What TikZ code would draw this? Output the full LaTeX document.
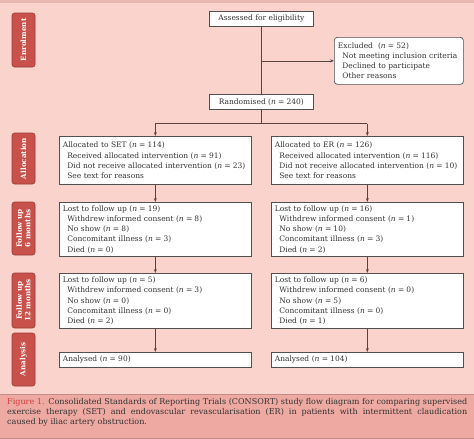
\documentclass[tikz,border=0pt]{standalone}
\usepackage{fontspec}
\setmainfont{DejaVu Serif}
\usetikzlibrary{arrows.meta,positioning}
\definecolor{bgpink}{HTML}{FAD4CC}
\definecolor{topstrip}{HTML}{E6B8B0}
\definecolor{capband}{HTML}{EEAAA2}
\definecolor{capborder}{HTML}{C48C86}
\definecolor{labfill}{HTML}{C9514C}
\definecolor{labdraw}{HTML}{9A3A36}
\definecolor{boxdraw}{HTML}{505050}
\definecolor{linecol}{HTML}{5A4242}
\definecolor{txt}{HTML}{333333}
\definecolor{figred}{HTML}{D23C3C}
\newcommand{\nv}[1]{(\textit{n}\hspace{2.2pt}=\hspace{2.2pt}#1)}
\newcommand{\ind}{\hspace*{4.5pt}}
\begin{document}
\begin{tikzpicture}[x=1pt,y=-1pt,
  box/.style={draw=boxdraw,fill=white,line width=0.7pt,anchor=north west,inner sep=0pt,
    text=txt,font=\fontsize{7.5}{10.2}\selectfont,align=left},
  sidelab/.style={draw=labdraw,fill=labfill,line width=0.6pt,rounded corners=2.5pt,rotate=90,
    text=white,font=\fontsize{7.2}{8.4}\selectfont\bfseries,align=center,inner sep=0pt,
    minimum height=23pt},
  conn/.style={draw=linecol,line width=0.7pt},
  arr/.style={conn,-{Stealth[length=4pt,width=3pt]}}]
\useasboundingbox (0,0) rectangle (474,439);
\fill[bgpink] (0,0) rectangle (474,439);
\fill[topstrip] (0,0) rectangle (474,2.5);
% caption band
\fill[capband] (0,394) rectangle (474,439);
\draw[capborder,line width=0.8pt] (0,394) -- (474,394);
\draw[capborder,line width=1.2pt] (0,438.4) -- (474,438.4);
\node[anchor=north west,inner sep=0pt,text width=460pt,align=justify,
  font=\fontsize{8.05}{10}\selectfont,text=txt] (cap) at (7,398.5)
  {\hyphenpenalty=10000\relax\textcolor{figred}{Figure 1.} Consolidated Standards of Reporting Trials (CONSORT) study flow diagram for comparing supervised\linebreak exercise therapy (SET) and endovascular revascularisation (ER) in patients with intermittent claudication\linebreak caused by iliac artery obstruction.};
% side labels
\node[sidelab,minimum width=54pt] (lenr) at (23.5,40) {Enrolment};
\node[sidelab,minimum width=51pt] (lall) at (23.5,158.5) {Allocation};
\node[sidelab,minimum width=53pt] (lf6) at (23.5,228.5) {Follow up\\6 months};
\node[sidelab,minimum width=55pt] (lf12) at (23.5,300.5) {Follow up\\12 months};
\node[sidelab,minimum width=53pt] (lana) at (23.5,359.5) {Analysis};
% boxes
\node[box,minimum width=104pt,minimum height=15pt,align=center] (assess) at (209,11) {Assessed for eligibility};
\node[box,minimum width=104pt,minimum height=15pt,align=center] (rand) at (209,94) {Randomised \nv{240}};
\node[box,rounded corners=3pt,minimum width=129pt,minimum height=47pt,text width=122pt] (excl) at (334,37)
  {Excluded~~\nv{52}\\\ind Not meeting inclusion criteria\\\ind Declined to participate\\\ind Other reasons};
\node[box,minimum width=192pt,minimum height=48pt,text width=185pt] (aset) at (59,136)
  {Allocated to SET \nv{114}\\\ind Received allocated intervention \nv{91}\\\ind Did not receive allocated intervention \nv{23}\\\ind See text for reasons};
\node[box,minimum width=192pt,minimum height=48pt,text width=185pt] (aer) at (271,136)
  {Allocated to ER \nv{126}\\\ind Received allocated intervention \nv{116}\\\ind Did not receive allocated intervention \nv{10}\\\ind See text for reasons};
\node[box,minimum width=192pt,minimum height=54pt,text width=185pt] (fset) at (59,202)
  {Lost to follow up \nv{19}\\\ind Withdrew informed consent \nv{8}\\\ind No show \nv{8}\\\ind Concomitant illness \nv{3}\\\ind Died \nv{0}};
\node[box,minimum width=192pt,minimum height=54pt,text width=185pt] (fer) at (271,202)
  {Lost to follow up \nv{16}\\\ind Withdrew informed consent \nv{1}\\\ind No show \nv{10}\\\ind Concomitant illness \nv{3}\\\ind Died \nv{2}};
\node[box,minimum width=192pt,minimum height=55pt,text width=185pt] (tset) at (59,273)
  {Lost to follow up \nv{5}\\\ind Withdrew informed consent \nv{3}\\\ind No show \nv{0}\\\ind Concomitant illness \nv{0}\\\ind Died \nv{2}};
\node[box,minimum width=192pt,minimum height=55pt,text width=185pt] (ter) at (271,273)
  {Lost to follow up \nv{6}\\\ind Withdrew informed consent \nv{0}\\\ind No show \nv{5}\\\ind Concomitant illness \nv{0}\\\ind Died \nv{1}};
\node[box,minimum width=192pt,minimum height=15pt,text width=185pt] (nset) at (59,352) {Analysed \nv{90}};
\node[box,minimum width=192pt,minimum height=15pt,text width=185pt] (ner) at (271,352) {Analysed \nv{104}};
% connectors
\coordinate (br) at (rand.north |- excl.west);
\coordinate (split) at ([yshift=-14pt]rand.south);
\coordinate (sl) at (aset.north |- split);
\coordinate (sr) at (aer.north |- split);
\draw[conn] (assess.south) -- (rand.north);
\draw[arr] (br) -- (excl.west);
\draw[conn] (rand.south) -- (split);
\draw[conn] (sl) -- (sr);
\draw[arr] (sl) -- (aset.north);
\draw[arr] (sr) -- (aer.north);
\draw[arr] (aset.south) -- (fset.north);
\draw[arr] (aer.south) -- (fer.north);
\draw[arr] (fset.south) -- (tset.north);
\draw[arr] (fer.south) -- (ter.north);
\draw[arr] (tset.south) -- (nset.north);
\draw[arr] (ter.south) -- (ner.north);
\end{tikzpicture}
\end{document}
